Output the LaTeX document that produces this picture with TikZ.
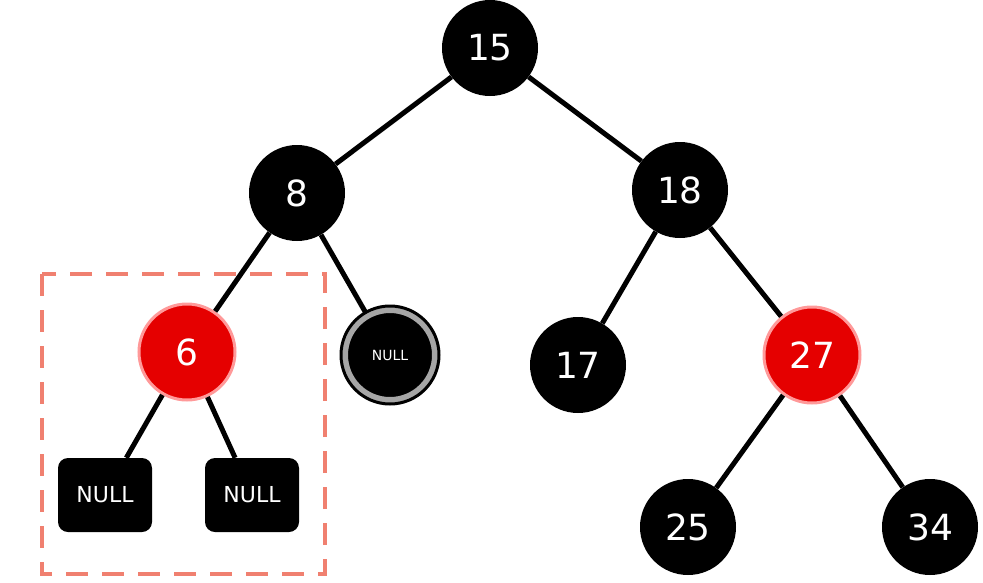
\documentclass[tikz,border=0pt]{standalone}
\usepackage{fontspec}
\setmainfont{DejaVu Sans}
\begin{document}
\begin{tikzpicture}[x=1pt,y=-1pt,
  bn/.style={circle,fill=black,minimum size=96pt,inner sep=0pt,text=white,font=\fontsize{36}{36}\selectfont},
  rn/.style={bn,fill=red!90!black,draw=red!40,line width=3pt},
  nb/.style={rounded corners=10pt,fill=black,minimum width=94pt,minimum height=74pt,text=white,font=\fontsize{22}{22}\selectfont},
  e/.style={line width=5pt}]
\useasboundingbox (0,0) rectangle (983,582);
\draw[dashed,dash pattern=on 22pt off 14pt,line width=4pt,color={rgb,255:red,240;green,128;blue,112}] (42,274) rectangle (325,574);
\node[bn] (n15) at (490,48) {15};
\node[bn] (n8) at (297,193) {8};
\node[bn] (n18) at (680,190) {18};
\node[rn] (n6) at (187,352) {6};
\node[circle,fill=black,draw=gray!70,line width=6pt,minimum size=90pt,inner sep=0pt,text=white,font=\fontsize{14}{14}\selectfont] (nn) at (390,355) {NULL};
\draw[black,line width=3pt] (nn) circle (49pt);
\node[bn] (n17) at (578,365) {17};
\node[rn] (n27) at (812,355) {27};
\node[bn] (n25) at (688,527) {25};
\node[bn] (n34) at (930,527) {34};
\node[nb] (l1) at (105,495) {NULL};
\node[nb] (l2) at (252,495) {NULL};
\begin{scope}[on background layer/.style={}]
\end{scope}
\draw[e] (n15)--(n8); \draw[e] (n15)--(n18);
\draw[e] (n8)--(n6); \draw[e] (n8)--(nn);
\draw[e] (n18)--(n17); \draw[e] (n18)--(n27);
\draw[e] (n6)--(l1); \draw[e] (n6)--(l2);
\draw[e] (n27)--(n25); \draw[e] (n27)--(n34);
\end{tikzpicture}
\end{document}
